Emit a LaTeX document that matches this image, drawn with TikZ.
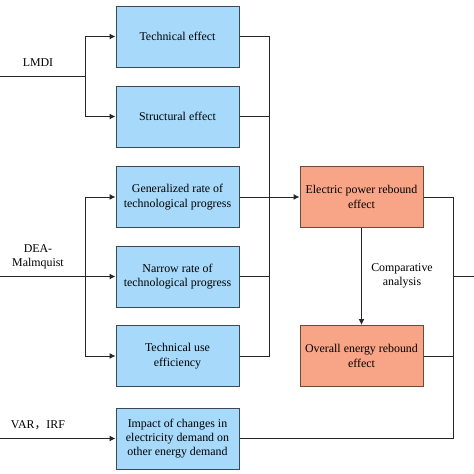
\documentclass[tikz,border=0pt]{standalone}
\usepackage{fontspec}
\setmainfont{Liberation Serif}
\newfontfamily\cjk{Noto Sans CJK SC}
\usetikzlibrary{arrows.meta}
\usetikzlibrary{shapes}

\definecolor{boxBlue}{RGB}{166,217,250}
\definecolor{boxBlueLine}{RGB}{58,72,88}
\definecolor{boxOrange}{RGB}{248,164,134}
\definecolor{boxOrangeLine}{RGB}{107,74,58}

\begin{document}
\begin{tikzpicture}[x = 1pt, y = -1pt, font = \fontsize{11.9}{14.4}\selectfont]
	\tikzstyle{methodStyle} = [shape = rectangle, draw = boxBlueLine, fill = boxBlue, line width = 1pt, minimum width = 123pt, minimum height = 61pt, align = center, inner sep = 2pt]
	\tikzstyle{reboundStyle} = [shape = rectangle, draw = boxOrangeLine, fill = boxOrange, line width = 1pt, minimum width = 123pt, minimum height = 61pt, align = center, inner sep = 2pt]
	\tikzstyle{labelStyle} = [align = center, inner sep = 0pt]
	\tikzstyle{lineStyle} = [line width = 1pt, draw = black!85]
	\tikzstyle{arrowStyle} = [lineStyle, -{Latex[length = 6pt, width = 6pt]}]
	\useasboundingbox (0, 0) rectangle (474, 474);
	% boxes
	\node[methodStyle] (t1) at (177.5, 36.5) {Technical effect};
	\node[methodStyle] (t2) at (177.5, 116.5) {Structural effect};
	\node[methodStyle] (t3) at (177.5, 197) {Generalized rate of\\technological progress};
	\node[methodStyle] (t4) at (177.5, 276.5) {Narrow rate of\\technological progress};
	\node[methodStyle] (t5) at (177.5, 356) {Technical use\\efficiency};
	\node[methodStyle] (t6) at (177.5, 438.5) {Impact of changes in\\electricity demand on\\other energy demand};
	\node[reboundStyle] (r1) at (361.5, 197) {Electric power rebound\\effect};
	\node[reboundStyle] (r2) at (361.5, 356) {Overall energy rebound\\effect};
	% labels
	\node[labelStyle] (lmdi) at (38, 63) {LMDI};
	\node[labelStyle] (dea) at (38, 257) {DEA-\\Malmquist};
	\node[labelStyle] (var) at (38, 425) {VAR{\cjk ，}IRF};
	\node[labelStyle] (comp) at (402, 276) {Comparative\\analysis};
	% connector points
	\coordinate (lmdiIn) at (0, 76);
	\coordinate (lmdiJ) at (85, 76);
	\coordinate (deaIn) at (0, 276.5);
	\coordinate (deaJ) at (85, 276.5);
	\coordinate (varIn) at (0, 438.5);
	\coordinate (leftJ) at (269, 197);
	\coordinate (rightJ) at (453, 276.5);
	\coordinate (out) at (474, 276.5);
	% connectors
	\draw[lineStyle] (lmdiIn) -- (lmdiJ);
	\draw[arrowStyle] (lmdiJ) |- (t1.west);
	\draw[arrowStyle] (lmdiJ) |- (t2.west);
	\draw[lineStyle] (deaIn) -- (deaJ);
	\draw[arrowStyle] (deaJ) |- (t3.west);
	\draw[arrowStyle] (deaJ) -- (t4.west);
	\draw[arrowStyle] (deaJ) |- (t5.west);
	\draw[arrowStyle] (varIn) -- (t6.west);
	\draw[lineStyle] (t1.east) -| (leftJ);
	\draw[lineStyle] (t2.east) -| (leftJ);
	\draw[lineStyle] (t4.east) -| (leftJ);
	\draw[lineStyle] (t5.east) -| (leftJ);
	\draw[arrowStyle] (t3.east) -- (r1.west);
	\draw[arrowStyle] (r1.south) -- (r2.north);
	\draw[lineStyle] (r1.east) -| (rightJ);
	\draw[lineStyle] (r2.east) -| (rightJ);
	\draw[lineStyle] (t6.east) -| (rightJ);
	\draw[lineStyle] (rightJ) -- (out);
\end{tikzpicture}
\end{document}
